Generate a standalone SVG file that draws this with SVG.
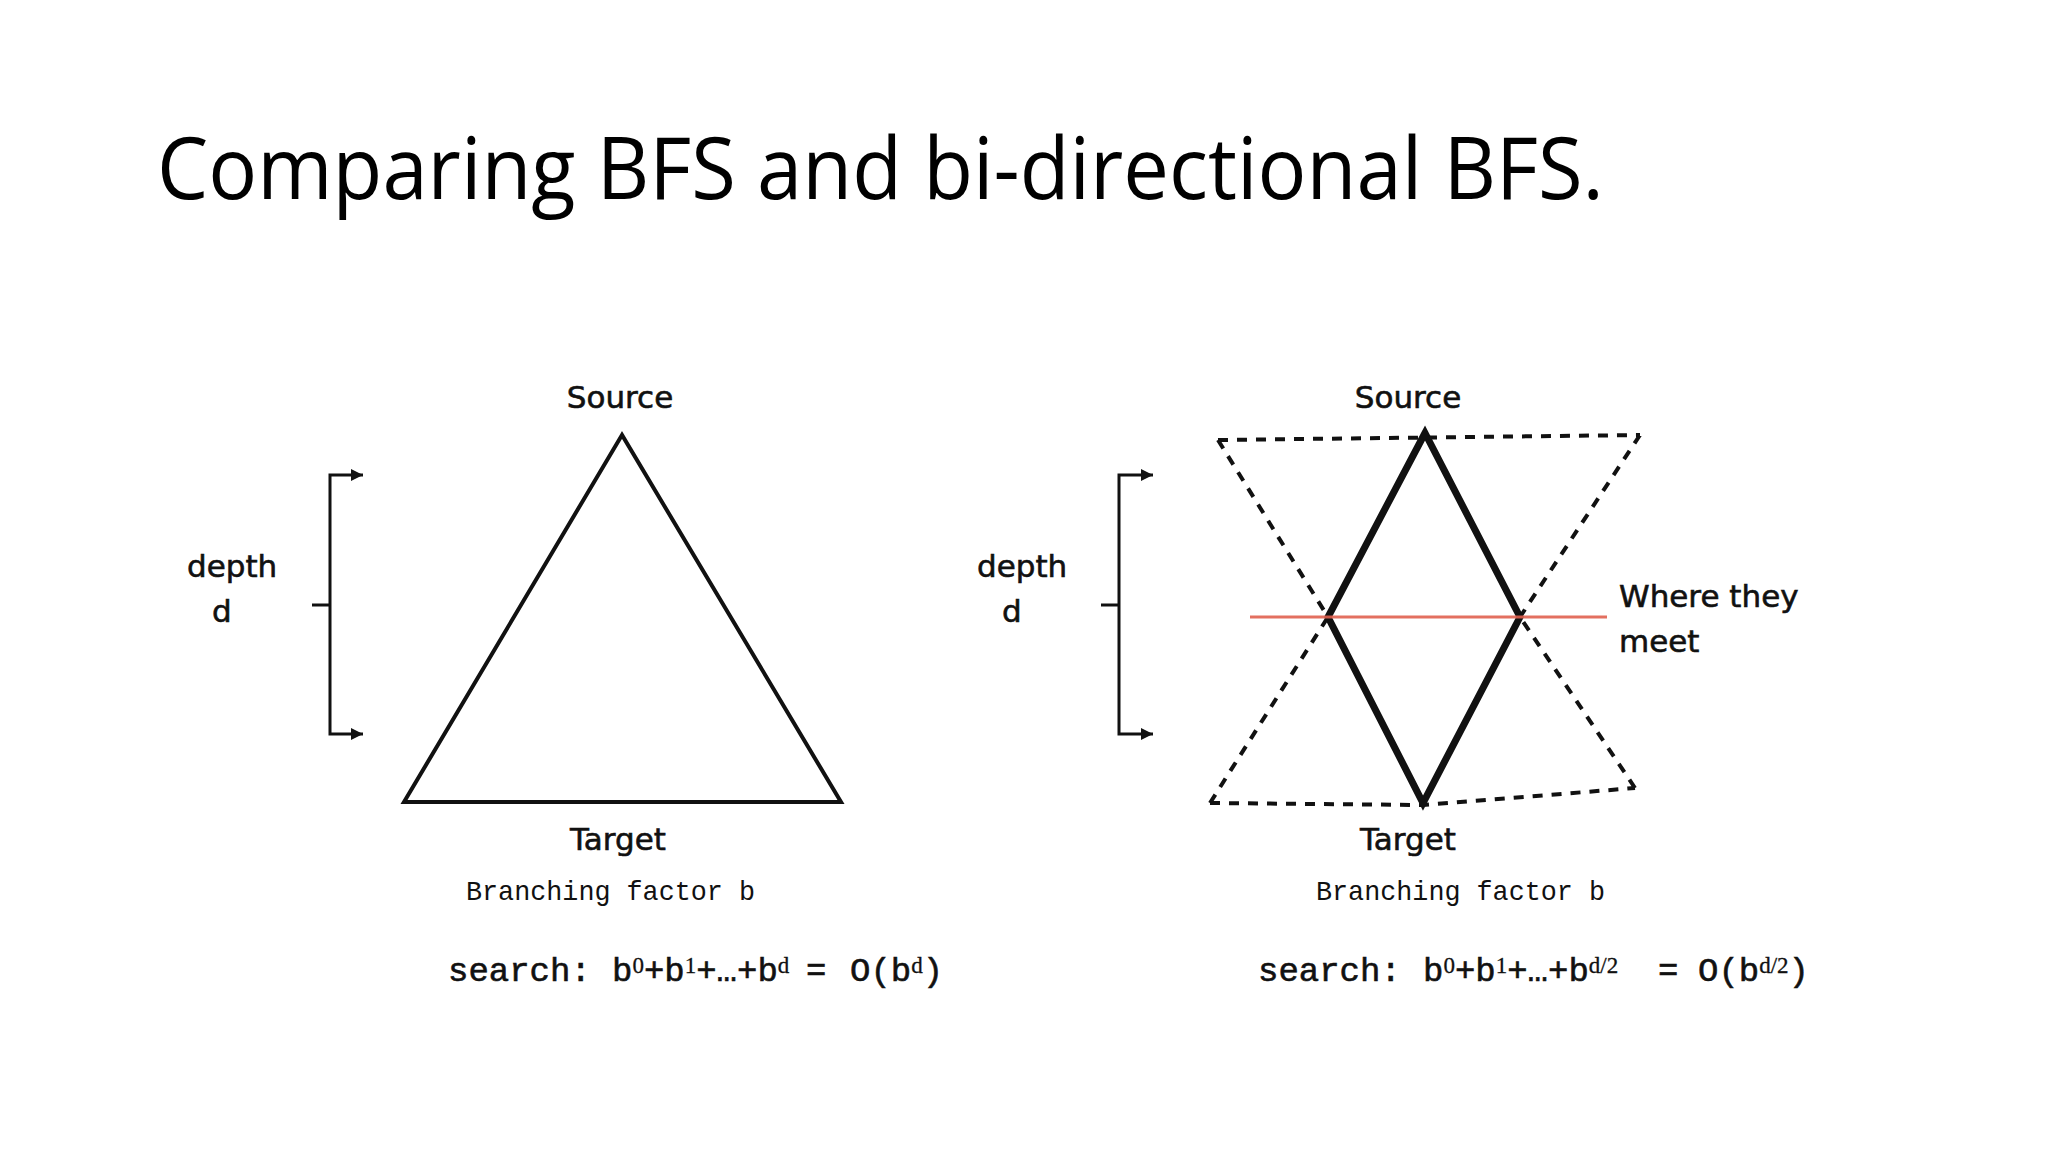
<svg xmlns="http://www.w3.org/2000/svg" width="2048" height="1152" viewBox="0 0 2048 1152">
<style>
.hand{font-family:"DejaVu Sans","Liberation Sans",sans-serif;font-size:31px;fill:#111;stroke:#111;stroke-width:0.6}
.mono{font-family:"Liberation Mono","Courier New",monospace;fill:#111}
.sup{font-family:"Liberation Serif","Times New Roman",serif;font-size:23px}
.thin{fill:none;stroke:#111;stroke-width:3}
.tri{fill:none;stroke:#111;stroke-width:4;stroke-linejoin:miter}
.dash{fill:none;stroke:#111;stroke-width:4;stroke-dasharray:10 9}
.dia{fill:none;stroke:#111;stroke-width:7;stroke-linejoin:miter}
</style>
<defs>
<marker id="ah" viewBox="0 0 10 10" refX="10" refY="5" markerWidth="14" markerHeight="12" markerUnits="userSpaceOnUse" orient="auto-start-reverse">
<path d="M0,0 L10,5 L0,10 z" fill="#111"/>
</marker>
</defs>
<rect width="2048" height="1152" fill="#fff"/>
<text id="title" x="157" y="199" font-family="'Open Sans','Noto Sans',sans-serif" font-size="86" fill="#000" textLength="1447" lengthAdjust="spacingAndGlyphs">Comparing BFS and bi-directional BFS.</text>

<g id="bfs">
<polygon id="bfs-triangle" class="tri" points="622,435 404,802 841,802"/>
<text class="hand" x="620" y="408" text-anchor="middle">Source</text>
<text class="hand" x="618" y="850" text-anchor="middle">Target</text>
<text class="hand" x="187" y="577">depth</text>
<text class="hand" x="212" y="622">d</text>
<text class="mono" x="466" y="900" font-size="28" textLength="289" lengthAdjust="spacingAndGlyphs">Branching factor b</text>
<text class="mono" x="448" y="981" font-size="34" stroke="#111" stroke-width="0.6">search:<tspan x="612">b</tspan><tspan class="sup" dy="-8" stroke-width="0.3">0</tspan><tspan dy="8">+b</tspan><tspan class="sup" dy="-8" stroke-width="0.3">1</tspan><tspan dy="8">+…+b</tspan><tspan class="sup" dy="-8" stroke-width="0.3">d</tspan><tspan x="806" dy="8">=</tspan><tspan x="850">O(b</tspan><tspan class="sup" dy="-8" stroke-width="0.3">d</tspan><tspan dy="8">)</tspan></text>
</g>

<g id="bibfs">
<path id="dashed-triangles" class="dash" d="M1218,440 L1640,435 M1218,440 L1328,617 M1640,435 L1520,617 M1210,803 L1423,805 L1635,788 M1210,803 L1328,617 M1635,788 L1520,617"/>
<polygon id="diamond" class="dia" points="1425,433 1328,617 1423,803 1520,617"/>
<text class="hand" x="1408" y="408" text-anchor="middle">Source</text>
<text class="hand" x="1408" y="850" text-anchor="middle">Target</text>
<text class="hand" x="977" y="577">depth</text>
<text class="hand" x="1002" y="622">d</text>
<text class="hand" x="1619" y="607">Where they</text>
<text class="hand" x="1619" y="652">meet</text>
<text class="mono" x="1316" y="900" font-size="28" textLength="289" lengthAdjust="spacingAndGlyphs">Branching factor b</text>
<text class="mono" x="1258" y="981" font-size="34" stroke="#111" stroke-width="0.6">search:<tspan x="1423">b</tspan><tspan class="sup" dy="-8" stroke-width="0.3">0</tspan><tspan dy="8">+b</tspan><tspan class="sup" dy="-8" stroke-width="0.3">1</tspan><tspan dy="8">+…+b</tspan><tspan class="sup" dy="-8" stroke-width="0.3">d/2</tspan><tspan x="1658" dy="8">=</tspan><tspan x="1698">O(b</tspan><tspan class="sup" dy="-8" stroke-width="0.3">d/2</tspan><tspan dy="8">)</tspan></text>
</g>

<g id="connectors">
<path id="depth-left" class="thin" d="M363,475 H330 V734 H363" marker-start="url(#ah)" marker-end="url(#ah)"/>
<path id="tick-left" class="thin" d="M312,605 H330"/>
<path id="depth-right" class="thin" d="M1153,475 H1119 V734 H1153" marker-start="url(#ah)" marker-end="url(#ah)"/>
<path id="tick-right" class="thin" d="M1101,605 H1119"/>
<path id="meet-line" d="M1250,617 H1607" stroke="#e0604f" stroke-width="3" fill="none" opacity="0.9"/>
</g>
</svg>
